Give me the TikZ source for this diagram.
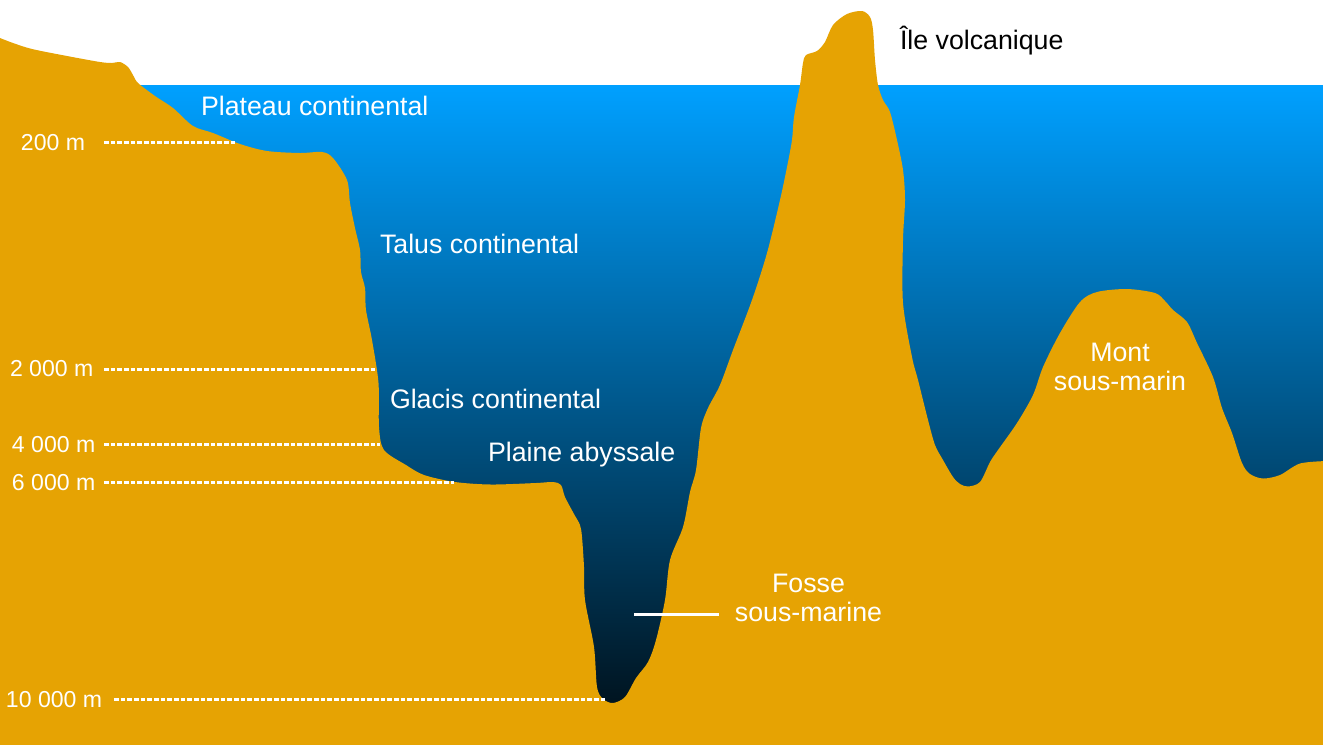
\documentclass[tikz,border=0pt]{standalone}
\usepackage{fontspec}
\setmainfont{Liberation Sans}
\definecolor{rock}{HTML}{E6A303}
\definecolor{seatop}{HTML}{00A0FF}
\definecolor{seabed}{HTML}{001420}
\tikzset{
  lab/.style={inner sep=0pt,outer sep=0pt,anchor=base west,font=\fontsize{20.05}{22}\selectfont,text=white},
  depth/.style={inner sep=0pt,outer sep=0pt,anchor=base west,font=\fontsize{17.3}{20}\selectfont,text=white},
  twoline/.style={inner sep=0pt,outer sep=0pt,anchor=base,align=center,font=\fontsize{20.05}{21.75}\selectfont,text=white},
  level/.style={draw=white,line width=1.8pt,dash pattern=on 3.4pt off 1.6pt},
  leader/.style={draw=white,line width=1.9pt}
}
\begin{document}
\begin{tikzpicture}[x=0.75pt,y=-0.75pt]
\useasboundingbox (0,0) rectangle (1323,744);
% sea, darkening with depth
\fill[white] (0,0) rectangle (1323,744);
\shade[top color=seatop,bottom color=seabed,shading=axis] (0,85) rectangle (1323,704);
% sea floor and land profile
\fill[rock] (-4,750) -- (-4,38) -- plot[smooth,tension=0.5] coordinates {
 (0,38) (13,43) (32,49) (67,56) (100,62) (112,63) (120,62) (128,67) (133,75) (138,83)
 (155,96) (173,108) (193,126) (213,133) (240,144) (267,151) (300,153) (322,152) (333,158)
 (347,180) (350,203) (355,228) (360,250) (361,272) (365,288) (366,310) (372,340) (378.5,383)
 (379,427) (384,450) (406,465) (424,475) (455,482) (491,484.5) (536,483) (553,482) (561,485)
 (565,497) (574,514) (580,525) (582,537) (584,567) (585,600) (594,647) (597,687) (603,699)
 (613,703) (625,697) (636,678) (648,662) (656,640) (665,600) (670,560) (683,527) (690,492)
 (696,470) (701,428) (708,408) (720,385) (733,350) (752,300) (767,253) (780,200) (787,167)
 (792,140) (794,117) (800,85) (803,63) (806,55) (817,51) (825,42) (833,25) (847,14) (862,11)
 (870,17) (873,30) (875,60) (878,85) (883,100) (890,112) (897,140) (903,170) (905,200)
 (903,240) (903,303) (912,357) (918,380) (928,420) (935,445) (943,460) (953,477) (960,484)
 (968,486.5) (980,482) (990,462) (998,450) (1017,423) (1033,395) (1043,367) (1060,333)
 (1080,302) (1097,292) (1127,289) (1155,293) (1165,301) (1173,310) (1187,322) (1197,343)
 (1213,377) (1222,408) (1232,433) (1242,463) (1250,474) (1263,478.5) (1280,475) (1300,463.5)
 (1327,461)
} -- (1327,750) -- cycle;
% depth marks
\coordinate (d200a) at (104,142.5); \coordinate (d200b) at (237,142.5);
\coordinate (d2ka) at (104,369.5);  \coordinate (d2kb) at (377,369.5);
\coordinate (d4ka) at (104,444.5);  \coordinate (d4kb) at (380,444.5);
\coordinate (d6ka) at (104,482.5);  \coordinate (d6kb) at (454,482.5);
\coordinate (d10ka) at (114,699.5); \coordinate (d10kb) at (605,699.5);
\draw[level] (d200a) -- (d200b);
\draw[level] (d2ka) -- (d2kb);
\draw[level] (d4ka) -- (d4kb);
\draw[level] (d6ka) -- (d6kb);
\draw[level] (d10ka) -- (d10kb);
\node[depth] (t200) at (21,150) {200 m};
\node[depth] (t2k) at (10,376) {2 000 m};
\node[depth] (t4k) at (12,452) {4 000 m};
\node[depth] (t6k) at (12,490) {6 000 m};
\node[depth] (t10k) at (6,707) {10 000 m};
% region names
\node[lab] (plateau) at (201,115) {Plateau continental};
\node[lab] (talus) at (380,253) {Talus continental};
\node[lab] (glacis) at (390,408) {Glacis continental};
\node[lab] (plaine) at (488,461) {Plaine abyssale};
\node[lab,text=black] (ile) at (900,49) {Île volcanique};
\node[twoline] (mont) at (1120,390) {Mont\\sous-marin};
\node[twoline] (fosse) at (808.5,621) {Fosse\\sous-marine};
\coordinate (trench) at (634,614.5);
\coordinate (trenchend) at (719,614.5);
\draw[leader] (trench) -- (trenchend);
\end{tikzpicture}
\end{document}
